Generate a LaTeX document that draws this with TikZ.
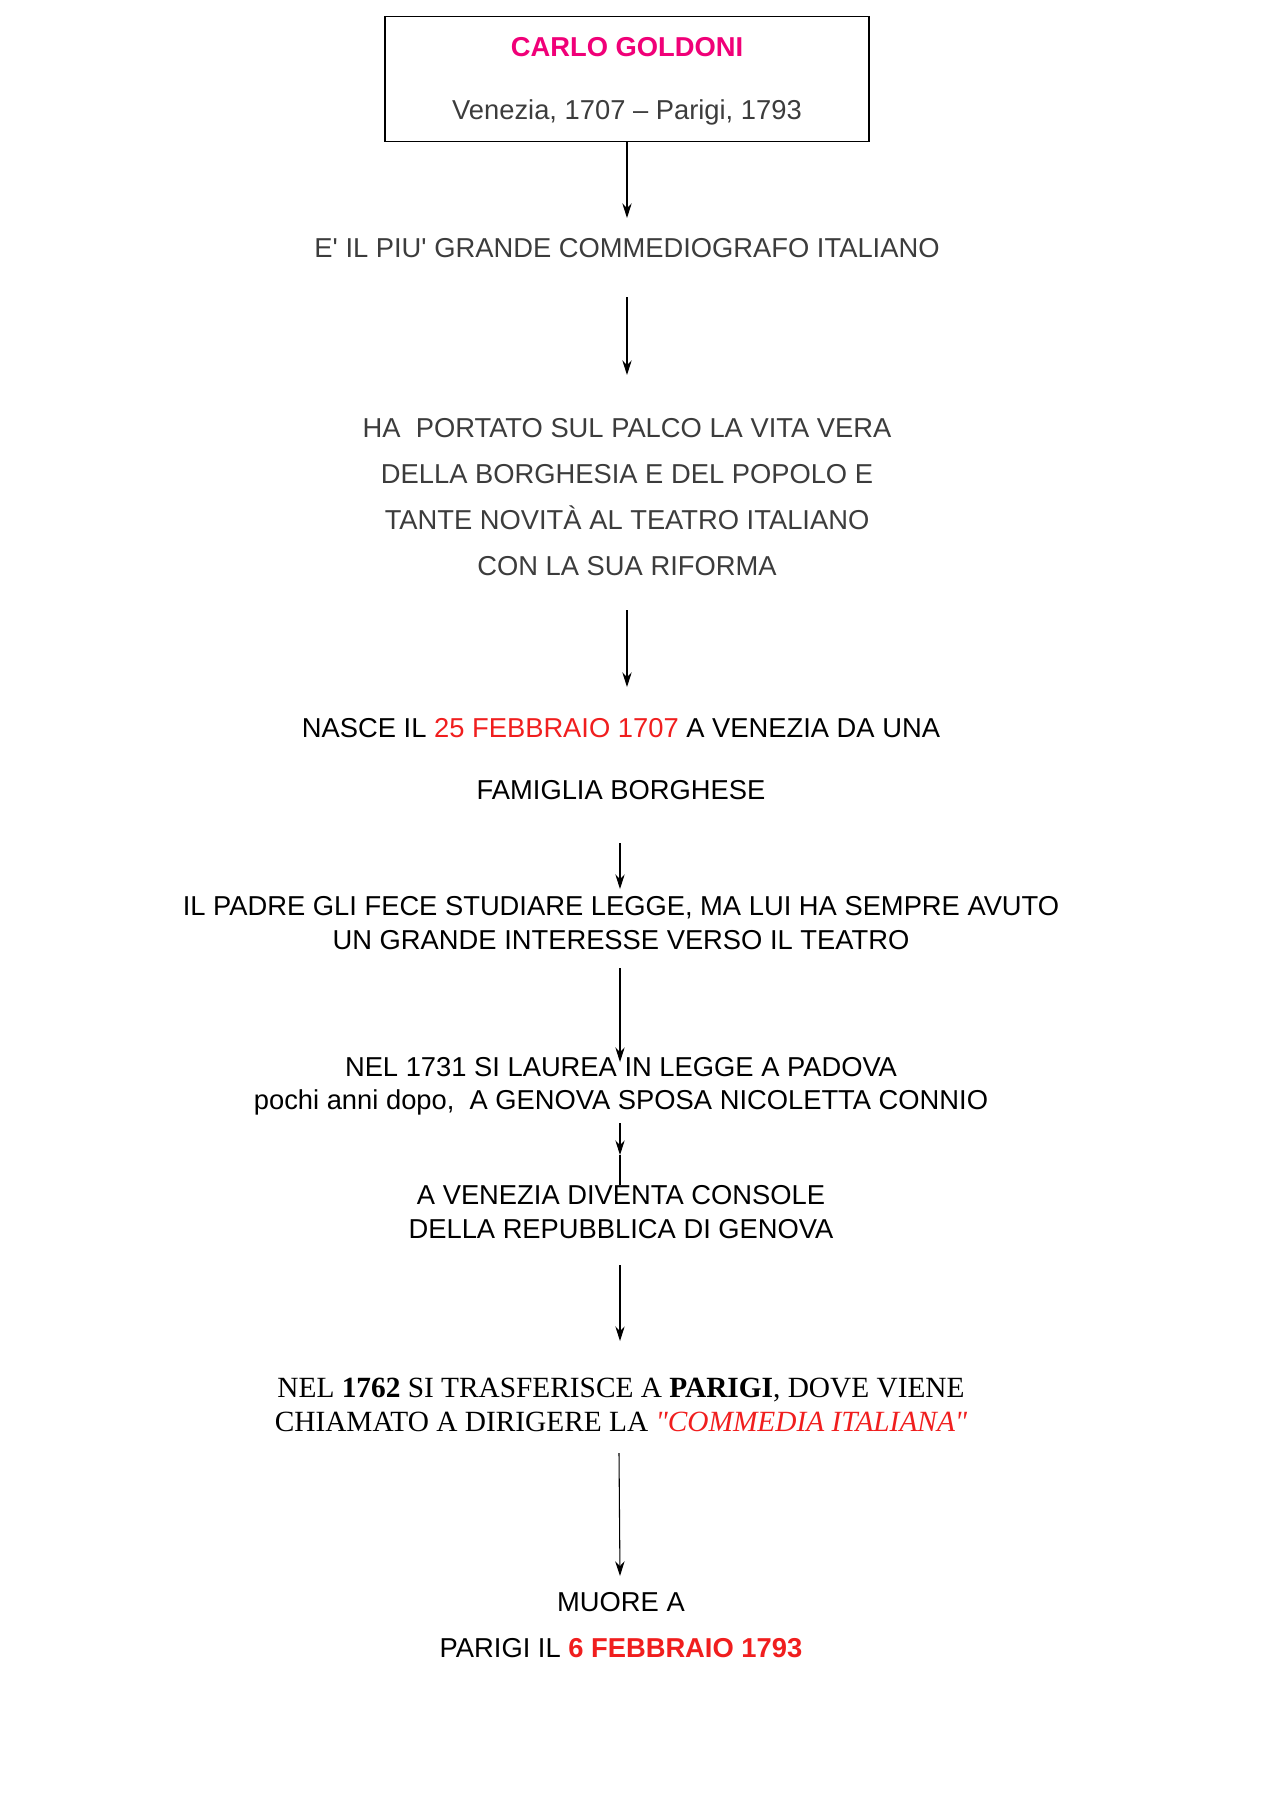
\documentclass[tikz,border=0pt]{standalone}
\usepackage{fontspec}
\setmainfont[Ligatures=NoCommon]{Liberation Sans}
\newfontfamily\serifont{Liberation Serif}
\usetikzlibrary{positioning, arrows.meta}
\definecolor{pinkred}{RGB}{240,0,120}
\definecolor{txtred}{RGB}{240,30,30}
\definecolor{txtgray}{RGB}{60,60,60}
\begin{document}
\begin{tikzpicture}[x=0.75pt,y=-0.75pt,
  txt/.style={align=center, font=\fontsize{20.5}{25}\selectfont, inner sep=0pt},
  arr/.style={-{Stealth[length=11pt,width=7pt]}, line width=0.8pt}]
\useasboundingbox (0,0) rectangle (1280,1809);
\node (box) [draw, line width=1pt, minimum width=484*0.75pt, minimum height=125*0.75pt] at (627,79) {};
\node (name) [txt, text=pinkred, font=\bfseries\fontsize{20.5}{25}\selectfont] at (627,47) {CARLO GOLDONI};
\node (life) [txt, text=txtgray] at (627,112) {Venezia, 1707 -- Parigi, 1793};
\node (t1) [txt, text=txtgray] at (627,248) {E\textquotesingle{} IL PIU\textquotesingle{} GRANDE COMMEDIOGRAFO ITALIANO};
\node (t2) [txt, text=txtgray, font=\fontsize{20.5}{34.5}\selectfont] at (627,497) {HA\ \ PORTATO SUL PALCO LA VITA VERA\\DELLA BORGHESIA E DEL POPOLO E\\TANTE NOVITÀ AL TEATRO ITALIANO\\CON LA SUA RIFORMA};
\node (t3) [txt, font=\fontsize{20.5}{46.5}\selectfont] at (621,759) {NASCE IL \textcolor{txtred}{25 FEBBRAIO 1707} A VENEZIA DA UNA\\FAMIGLIA BORGHESE};
\node (t4) [txt] at (621,923) {IL PADRE GLI FECE STUDIARE LEGGE, MA LUI HA SEMPRE AVUTO\\UN GRANDE INTERESSE VERSO IL TEATRO};
\node (t5) [txt] at (621,1086) {NEL 1731 SI LAUREA IN LEGGE A PADOVA\\pochi anni dopo,\ \ A GENOVA SPOSA NICOLETTA CONNIO};
\node (t6) [txt] at (621,1212) {A VENEZIA DIVENTA CONSOLE\\DELLA REPUBBLICA DI GENOVA};
\node (t7) [txt, font=\serifont\fontsize{22}{26}\selectfont] at (621,1405) {NEL \textbf{1762} SI TRASFERISCE A \textbf{PARIGI}, DOVE VIENE\\CHIAMATO A DIRIGERE LA \textcolor{txtred}{\itshape"COMMEDIA ITALIANA"}};
\node (t8) [txt, font=\fontsize{20.5}{34.5}\selectfont] at (621,1625) {MUORE A\\PARIGI IL \textcolor{txtred}{\bfseries 6 FEBBRAIO 1793}};
% arrow ends
\coordinate (e1) at (627,218);
\coordinate (s2) at (627,297); \coordinate (e2) at (627,375);
\coordinate (s3) at (627,610); \coordinate (e3) at (627,687);
\coordinate (s4) at (620,843); \coordinate (e4) at (620,889);
\coordinate (s5) at (620,968); \coordinate (e5) at (620,1062);
\coordinate (s6) at (620,1123); \coordinate (e6) at (620,1155); \coordinate (f6) at (620,1185);
\coordinate (s7) at (620,1265); \coordinate (e7) at (620,1341);
\coordinate (s8) at (619,1453); \coordinate (e8) at (620,1576);
\draw [arr] (box.south) -- (e1);
\draw [arr] (s2) -- (e2);
\draw [arr] (s3) -- (e3);
\draw [arr] (s4) -- (e4);
\draw [arr] (s5) -- (e5);
\draw [arr] (s6) -- (e6);
\draw [line width=0.8pt] (e6) -- (f6);
\draw [arr] (s7) -- (e7);
\draw [arr] (s8) -- (e8);
\end{tikzpicture}
\end{document}
